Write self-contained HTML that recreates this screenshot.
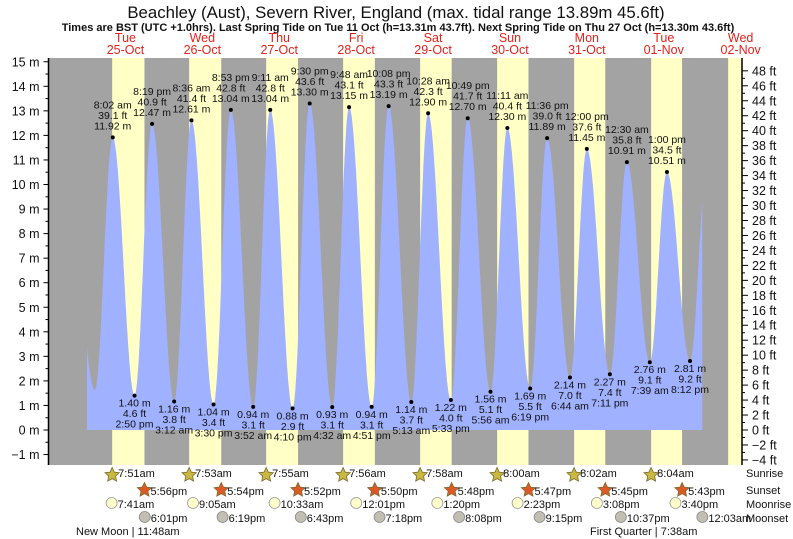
<!DOCTYPE html>
<html><head><meta charset="utf-8"><style>
body{margin:0;background:#fff;}
svg{display:block;font-family:"Liberation Sans",Arial,sans-serif;}
</style></head><body>
<svg id="chart" width="793" height="539" viewBox="0 0 793 539" xmlns="http://www.w3.org/2000/svg">
<text x="396" y="18" font-size="16.8" text-anchor="middle" fill="#111">Beachley (Aust), Severn River, England (max. tidal range 13.89m 45.6ft)</text>
<text x="398" y="31" font-size="11" font-weight="bold" text-anchor="middle" fill="#111">Times are BST (UTC +1.0hrs). Last Spring Tide on Tue 11 Oct (h=13.31m 43.7ft). Next Spring Tide on Thu 27 Oct (h=13.30m 43.6ft)</text>
<g id="bg"></g><g id="tide"></g><g id="axes"></g><g id="labels"></g><g id="astro"></g>
</svg>
<script>
// ---- data ----
const dayNames = ["Tue","Wed","Thu","Fri","Sat","Sun","Mon","Tue","Wed"];
const dayDates = ["25-Oct","26-Oct","27-Oct","28-Oct","29-Oct","30-Oct","31-Oct","01-Nov","02-Nov"];
// extremes: hours from 25-Oct 00:00
const exHours = [-6.5,2.45,8.033,14.833,20.317,27.2,32.6,39.5,44.883,51.867,57.183,64.167,69.5,76.533,81.8,88.85,94.133,101.217,106.467,113.55,118.817,125.933,131.183,138.317,143.6,150.733,156,163.183,168.5,175.65,181,188.2,193.5];
const exHeights = [11.6,1.63,11.92,1.40,12.47,1.16,12.61,1.04,13.04,0.94,13.04,0.88,13.30,0.93,13.15,0.94,13.19,1.14,12.90,1.22,12.70,1.56,12.30,1.69,11.89,2.14,11.45,2.27,10.91,2.76,10.51,2.81,10.8];
const exTimeLabels = [null,null,"8:02 am","2:50 pm","8:19 pm","3:12 am","8:36 am","3:30 pm","8:53 pm","3:52 am","9:11 am","4:10 pm","9:30 pm","4:32 am","9:48 am","4:51 pm","10:08 pm","5:13 am","10:28 am","5:33 pm","10:49 pm","5:56 am","11:11 am","6:19 pm","11:36 pm","6:44 am","12:00 pm","7:11 pm","12:30 am","7:39 am","1:00 pm","8:12 pm",null];
const exFeet = [null,null,"39.1","4.6","40.9","3.8","41.4","3.4","42.8","3.1","42.8","2.9","43.6","3.1","43.1","3.1","43.3","3.7","42.3","4.0","41.7","5.1","40.4","5.5","39.0","7.0","37.6","7.4","35.8","9.1","34.5","9.2",null];
const sunriseHours = [7.85,7.883,7.917,7.933,7.967,8.0,8.033,8.067,8.1];
const sunriseLabels = ["7:51am","7:53am","7:55am","7:56am","7:58am","8:00am","8:02am","8:04am"];
const sunsetHours = [17.933,17.9,17.867,17.833,17.8,17.783,17.75,17.717];
const sunsetLabels = ["5:56pm","5:54pm","5:52pm","5:50pm","5:48pm","5:47pm","5:45pm","5:43pm"];
const moonriseHours = [7.683,9.083,10.55,12.017,13.333,14.383,15.133,15.667];
const moonriseLabels = ["7:41am","9:05am","10:33am","12:01pm","1:20pm","2:23pm","3:08pm","3:40pm"];
const moonsetHours = [18.017,18.317,18.717,19.3,20.133,21.25,22.617,24.05];
const moonsetLabels = ["6:01pm","6:19pm","6:43pm","7:18pm","8:08pm","9:15pm","10:37pm","12:03am"];
const leftTicks = [-1,0,1,2,3,4,5,6,7,8,9,10,11,12,13,14,15];
const rightTicks = [-4,-2,0,2,4,6,8,10,12,14,16,18,20,22,24,26,28,30,32,34,36,38,40,42,44,46,48];

// ---- scales ----
const NS="http://www.w3.org/2000/svg";
const X0=87, DAYW=76.9, PL=48.5, PR=742, PT=58, PB=465, Y0=430, MPX=24.55;
const xh = h => X0 + h/24*DAYW;
const ym = m => Y0 - m*MPX;
const yft = f => ym(f*0.3048);
function el(tag, attrs, parent, txt){const e=document.createElementNS(NS,tag);for(const k in attrs)e.setAttribute(k,attrs[k]);if(txt!=null)e.textContent=txt;parent.appendChild(e);return e;}
const bg=document.getElementById('bg'), tide=document.getElementById('tide'), axes=document.getElementById('axes'), labels=document.getElementById('labels'), astro=document.getElementById('astro');

// background
let r=el('rect',{x:PL,y:PT,width:PR-PL,height:PB-PT,fill:'#a3a3a3'},bg);


for(let d=0; d<9; d++){
  const s=xh(d*24+sunriseHours[d]);
  const e = d<8 ? xh(d*24+sunsetHours[d]) : PR;
  const b=el('rect',{x:s,y:PT,width:Math.min(e,PR)-s,height:PB-PT,fill:'#ffffc6'},bg);
  
  
  const cx=xh(d*24+12);
  const t1=el('text',{x:cx,y:42,'font-size':12.5,'text-anchor':'middle',fill:'#e3231c'},bg,dayNames[d]);
  
  
  const t2=el('text',{x:cx,y:54,'font-size':12.5,'text-anchor':'middle',fill:'#e3231c'},bg,dayDates[d]);
  
  
}

// tide curve
function heightAt(h){
  for(let i=0;i<exHours.length-1;i++){
    if(h>=exHours[i] && h<=exHours[i+1]){
      const f=(h-exHours[i])/(exHours[i+1]-exHours[i]);
      const a=exHeights[i], b=exHeights[i+1];
      return a+(b-a)*(1-Math.cos(Math.PI*f))/2;
    }
  }
  return 0;
}
let pts=[[xh(0),Y0]];
for(let h=0; h<=192; h+=0.2){pts.push([xh(h),ym(heightAt(h))]);}
pts.push([xh(192),Y0]);
const poly=el('polygon',{points:pts.map(p=>p[0].toFixed(1)+','+p[1].toFixed(1)).join(' '),fill:'#a0b1ff'},tide);



// extreme labels
for(let i=0;i<exHours.length;i++){
  if(!exTimeLabels[i]) continue;
  const x=xh(exHours[i]), y=ym(exHeights[i]);
  const c=el('circle',{cx:x,cy:y,r:2,fill:'#000'},labels);
  
  
  const high = exHeights[i]>6;
  const lines = high ? [exTimeLabels[i], exFeet[i]+' ft', exHeights[i].toFixed(2)+' m'] : [exHeights[i].toFixed(2)+' m', exFeet[i]+' ft', exTimeLabels[i]];
  const offs = high ? [-29,-18.5,-8] : [11,21.5,32];
  for(let k=0;k<3;k++){
    const t=el('text',{x:x,y:y+offs[k],'font-size':10.5,'text-anchor':'middle',fill:'#111'},labels,lines[k]);
    
    
  }
}

// axes
el('line',{x1:PL,y1:PT,x2:PL,y2:PB,stroke:'#000','stroke-width':1.5},axes);
el('line',{x1:PR,y1:PT,x2:PR,y2:PB,stroke:'#000','stroke-width':1.5},axes);
for(let m=-1;m<=15;m+=0.5){
  const y=ym(m); if(y<PT-1||y>PB) continue;
  el('line',{x1:PL-(Number.isInteger(m)?5:3),y1:y,x2:PL,y2:y,stroke:'#000'},axes);
}
leftTicks.forEach(m=>{
  const t=el('text',{x:PL-9,y:ym(m)+4.5,'font-size':12.5,'text-anchor':'end',fill:'#111'},axes,(m<0?'\u2212'+(-m):m)+' m');
  
  
});
for(let f=-4;f<=48;f++){
  const y=yft(f);
  el('line',{x1:PR,y1:y,x2:PR+(f%2===0?6:3),y2:y,stroke:'#000'},axes);
}
rightTicks.forEach(f=>{
  const t=el('text',{x:PR+10,y:yft(f)+4.5,'font-size':12.5,'text-anchor':'start',fill:'#111'},axes,(f<0?'\u2212'+(-f):f)+' ft');
  
  
});

// astro rows
function star(cx,cy,fill,name){
  let p=[];for(let k=0;k<10;k++){const a=-Math.PI/2+k*Math.PI/5;const rr=k%2?3.6:7.5;p.push((cx+rr*Math.cos(a)).toFixed(1)+','+(cy+rr*Math.sin(a)).toFixed(1));}
  const s=el('polygon',{points:p.join(' '),fill:fill,stroke:'#7a6a30','stroke-width':0.8},astro);
  
  
}
function txt(x,y,s,name,anchor){const t=el('text',{x:x,y:y,'font-size':11,'text-anchor':anchor||'start',fill:'#111'},astro,s);}
for(let d=0;d<8;d++){
  let x=xh(d*24+sunriseHours[d]); star(x,475,'#c9b940','sunrise-icon'); txt(x+6,477,sunriseLabels[d],'sunrise-time');
  x=xh(d*24+sunsetHours[d]); star(x,490,'#dd5a26','sunset-icon'); txt(x+6,495,sunsetLabels[d],'sunset-time');
  x=xh(d*24+moonriseHours[d]);
  let c=el('circle',{cx:x,cy:503,r:5.5,fill:'#ffffcc',stroke:'#999','stroke-width':0.8},astro);
  
  
  txt(x+6,508,moonriseLabels[d],'moonrise-time');
  x=xh(d*24+moonsetHours[d]);
  c=el('circle',{cx:x,cy:517,r:5.5,fill:'#c2bfb2',stroke:'#888','stroke-width':0.8},astro);
  
  
  txt(x+6,522,moonsetLabels[d],'moonset-time');
}
txt(746,477,'Sunrise','sunrise-row-label');
txt(746,494,'Sunset','sunset-row-label');
txt(746,508,'Moonrise','moonrise-row-label');
txt(746,522,'Moonset','moonset-row-label');
txt(76,535,'New Moon | 11:48am','new-moon-label');
txt(590,535,'First Quarter | 7:38am','first-quarter-label');
</script>
</body></html>
